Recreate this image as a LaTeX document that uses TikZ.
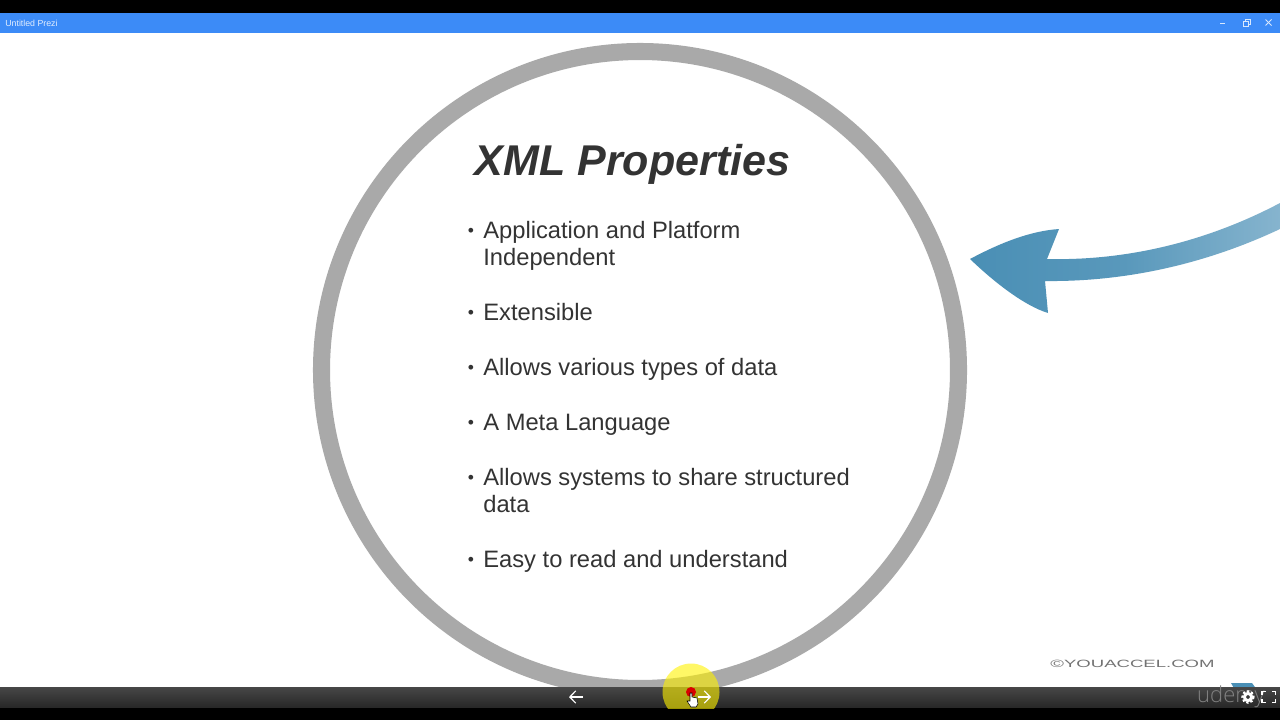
\documentclass[tikz,border=0pt]{standalone}
\usepackage{fontspec}
\usepackage{graphicx}
\setmainfont{Liberation Sans}
\newfontfamily\logofont{Open Sans Light}
\definecolor{barblue}{HTML}{3C8BF7}
\definecolor{ringgray}{HTML}{A9A9A9}
\definecolor{inktext}{HTML}{333333}
\definecolor{arrowdark}{HTML}{4A8FB5}
\definecolor{arrowlight}{HTML}{86B4CE}
\definecolor{bartop}{HTML}{474747}
\definecolor{barbottom}{HTML}{262626}
\tikzset{
    itemtext/.style={anchor=west, inner sep=0pt, align=left, font=\fontsize{13.5}{15.7}\selectfont, text=inktext},
    itemdot/.style={anchor=center, inner sep=0pt, font=\fontsize{10}{12}\selectfont, text=inktext},
    navarrow/.style={draw=white, line width=0.65pt, -{Straight Barb[length=3.4pt,width=7pt]}},
    wincontrol/.style={draw=white!80!barblue, line width=0.55pt},
}
\usetikzlibrary{arrows.meta}
\begin{document}
\begin{tikzpicture}[x=0.02cm,y=-0.02cm]
        \useasboundingbox (0,0) rectangle (1280,720);
        % Page
        \fill [white] (0,0) rectangle (1280,720);
        % Big ring
        \draw [ringgray, line width=9.7pt] (640,370) circle (318.5);
        % Curved arrow coming in from the right
        \shade [left color=arrowdark, right color=arrowlight, middle color=arrowdark!75!arrowlight]
            (970,259) .. controls (1000,243) and (1030,231) .. (1059,229) -- (1047,259)
            .. controls (1130,261) and (1210,240) .. (1280,203) -- (1280,229)
            .. controls (1210,262) and (1130,282) .. (1045,281) -- (1048,313)
            .. controls (1025,306) and (995,283) .. (970,259) -- cycle;
        % Title
        \node (title) [anchor=center, inner sep=0pt, text=inktext, font=\fontsize{24.5}{28}\selectfont\bfseries\itshape] at (632.5,164.5) {XML Properties};
        % List
        \node (dotA) [itemdot] at (471,232) {•};
        \node (itemA) [itemtext] at (483,246) {Application and Platform\\Independent};
        \node (dotB) [itemdot] at (471,314) {•};
        \node (itemB) [itemtext] at (483,312) {Extensible};
        \node (dotC) [itemdot] at (471,369) {•};
        \node (itemC) [itemtext] at (483,369) {Allows various types of data};
        \node (dotD) [itemdot] at (471,424) {•};
        \node (itemD) [itemtext] at (483,425) {A Meta Language};
        \node (dotE) [itemdot] at (471,479) {•};
        \node (itemE) [itemtext] at (483,490.5) {Allows systems to share structured\\data};
        \node (dotF) [itemdot] at (471,561) {•};
        \node (itemF) [itemtext] at (483,561) {Easy to read and understand};
        % Watermark
        \node (mark) [anchor=center, inner sep=0pt, text=black!55, font=\fontsize{6}{7}\selectfont] at (1132.5,663.5) {\scalebox{1.76}[1]{©YOUACCEL.COM}};
        % Top bars
        \fill [black] (0,0) rectangle (1280,13);
        \fill [barblue] (0,13) rectangle (1280,33);
        \node (prezi) [anchor=west, inner sep=0pt, text=white!85!barblue, font=\fontsize{5}{6}\selectfont] at (5,23) {Untitled Prezi};
        \draw [wincontrol] (1220,23.5) -- (1225,23.5); % minimise
        \draw [wincontrol] (1243,21) rectangle (1248,26);
        \draw [wincontrol] (1245,21) -- (1245,19.5) -- (1250,19.5) -- (1250,24) -- (1248,24);
        \draw [wincontrol] (1265.5,19.5) -- (1271.5,25.5); % close
        \draw [wincontrol] (1271.5,19.5) -- (1265.5,25.5);
        % Bottom bars
        \fill [arrowdark] (1231,683) -- (1252,683) -- (1257,690) -- (1235,690) -- cycle;
        \shade [top color=bartop, bottom color=barbottom] (0,687) rectangle (1280,708);
        \node (udemy) [anchor=center, inner sep=0pt, text=white!50!black, font=\fontsize{12.5}{15}\selectfont\logofont] at (1231,697) {udemy};
        \fill [black] (0,708) rectangle (1280,720);
        % Player buttons
        \coordinate (backA) at (583,697);
        \coordinate (backB) at (569,697);
        \coordinate (nextA) at (698,697);
        \coordinate (nextB) at (711,697);
        \draw [navarrow] (backA) -- (backB);
        % Mouse highlight
        \begin{scope}
            \clip (0,0) rectangle (1280,708);
            \fill [yellow, opacity=0.6] (691,692) circle (28.5);
        \end{scope}
        \draw [navarrow] (nextA) -- (nextB);
        \fill [red!85!black] (691,692) circle (5);
        % Hand cursor
        \draw [fill=white, draw=black, line width=0.3pt] (690,693) -- (692,693) -- (692,697) -- (697,698) -- (698,704) -- (696,707) -- (691,707) -- (687,701) -- (690,701) -- cycle;
        % Gear and full screen
        \draw [white, line width=1.7pt] (1248,697) circle (3.6);
        \draw [white, line width=1.3pt, dash pattern=on 1.2pt off 1.15pt] (1248,697) circle (5.6);
        \draw [white, line width=0.8pt] (1262,695) -- (1262,691.5) -- (1266,691.5);
        \draw [white, line width=0.8pt] (1272,691.5) -- (1275.5,691.5) -- (1275.5,695);
        \draw [white, line width=0.8pt] (1262,699) -- (1262,702.5) -- (1266,702.5);
        \draw [white, line width=0.8pt] (1272,702.5) -- (1275.5,702.5) -- (1275.5,699);
    \end{tikzpicture}
\end{document}
